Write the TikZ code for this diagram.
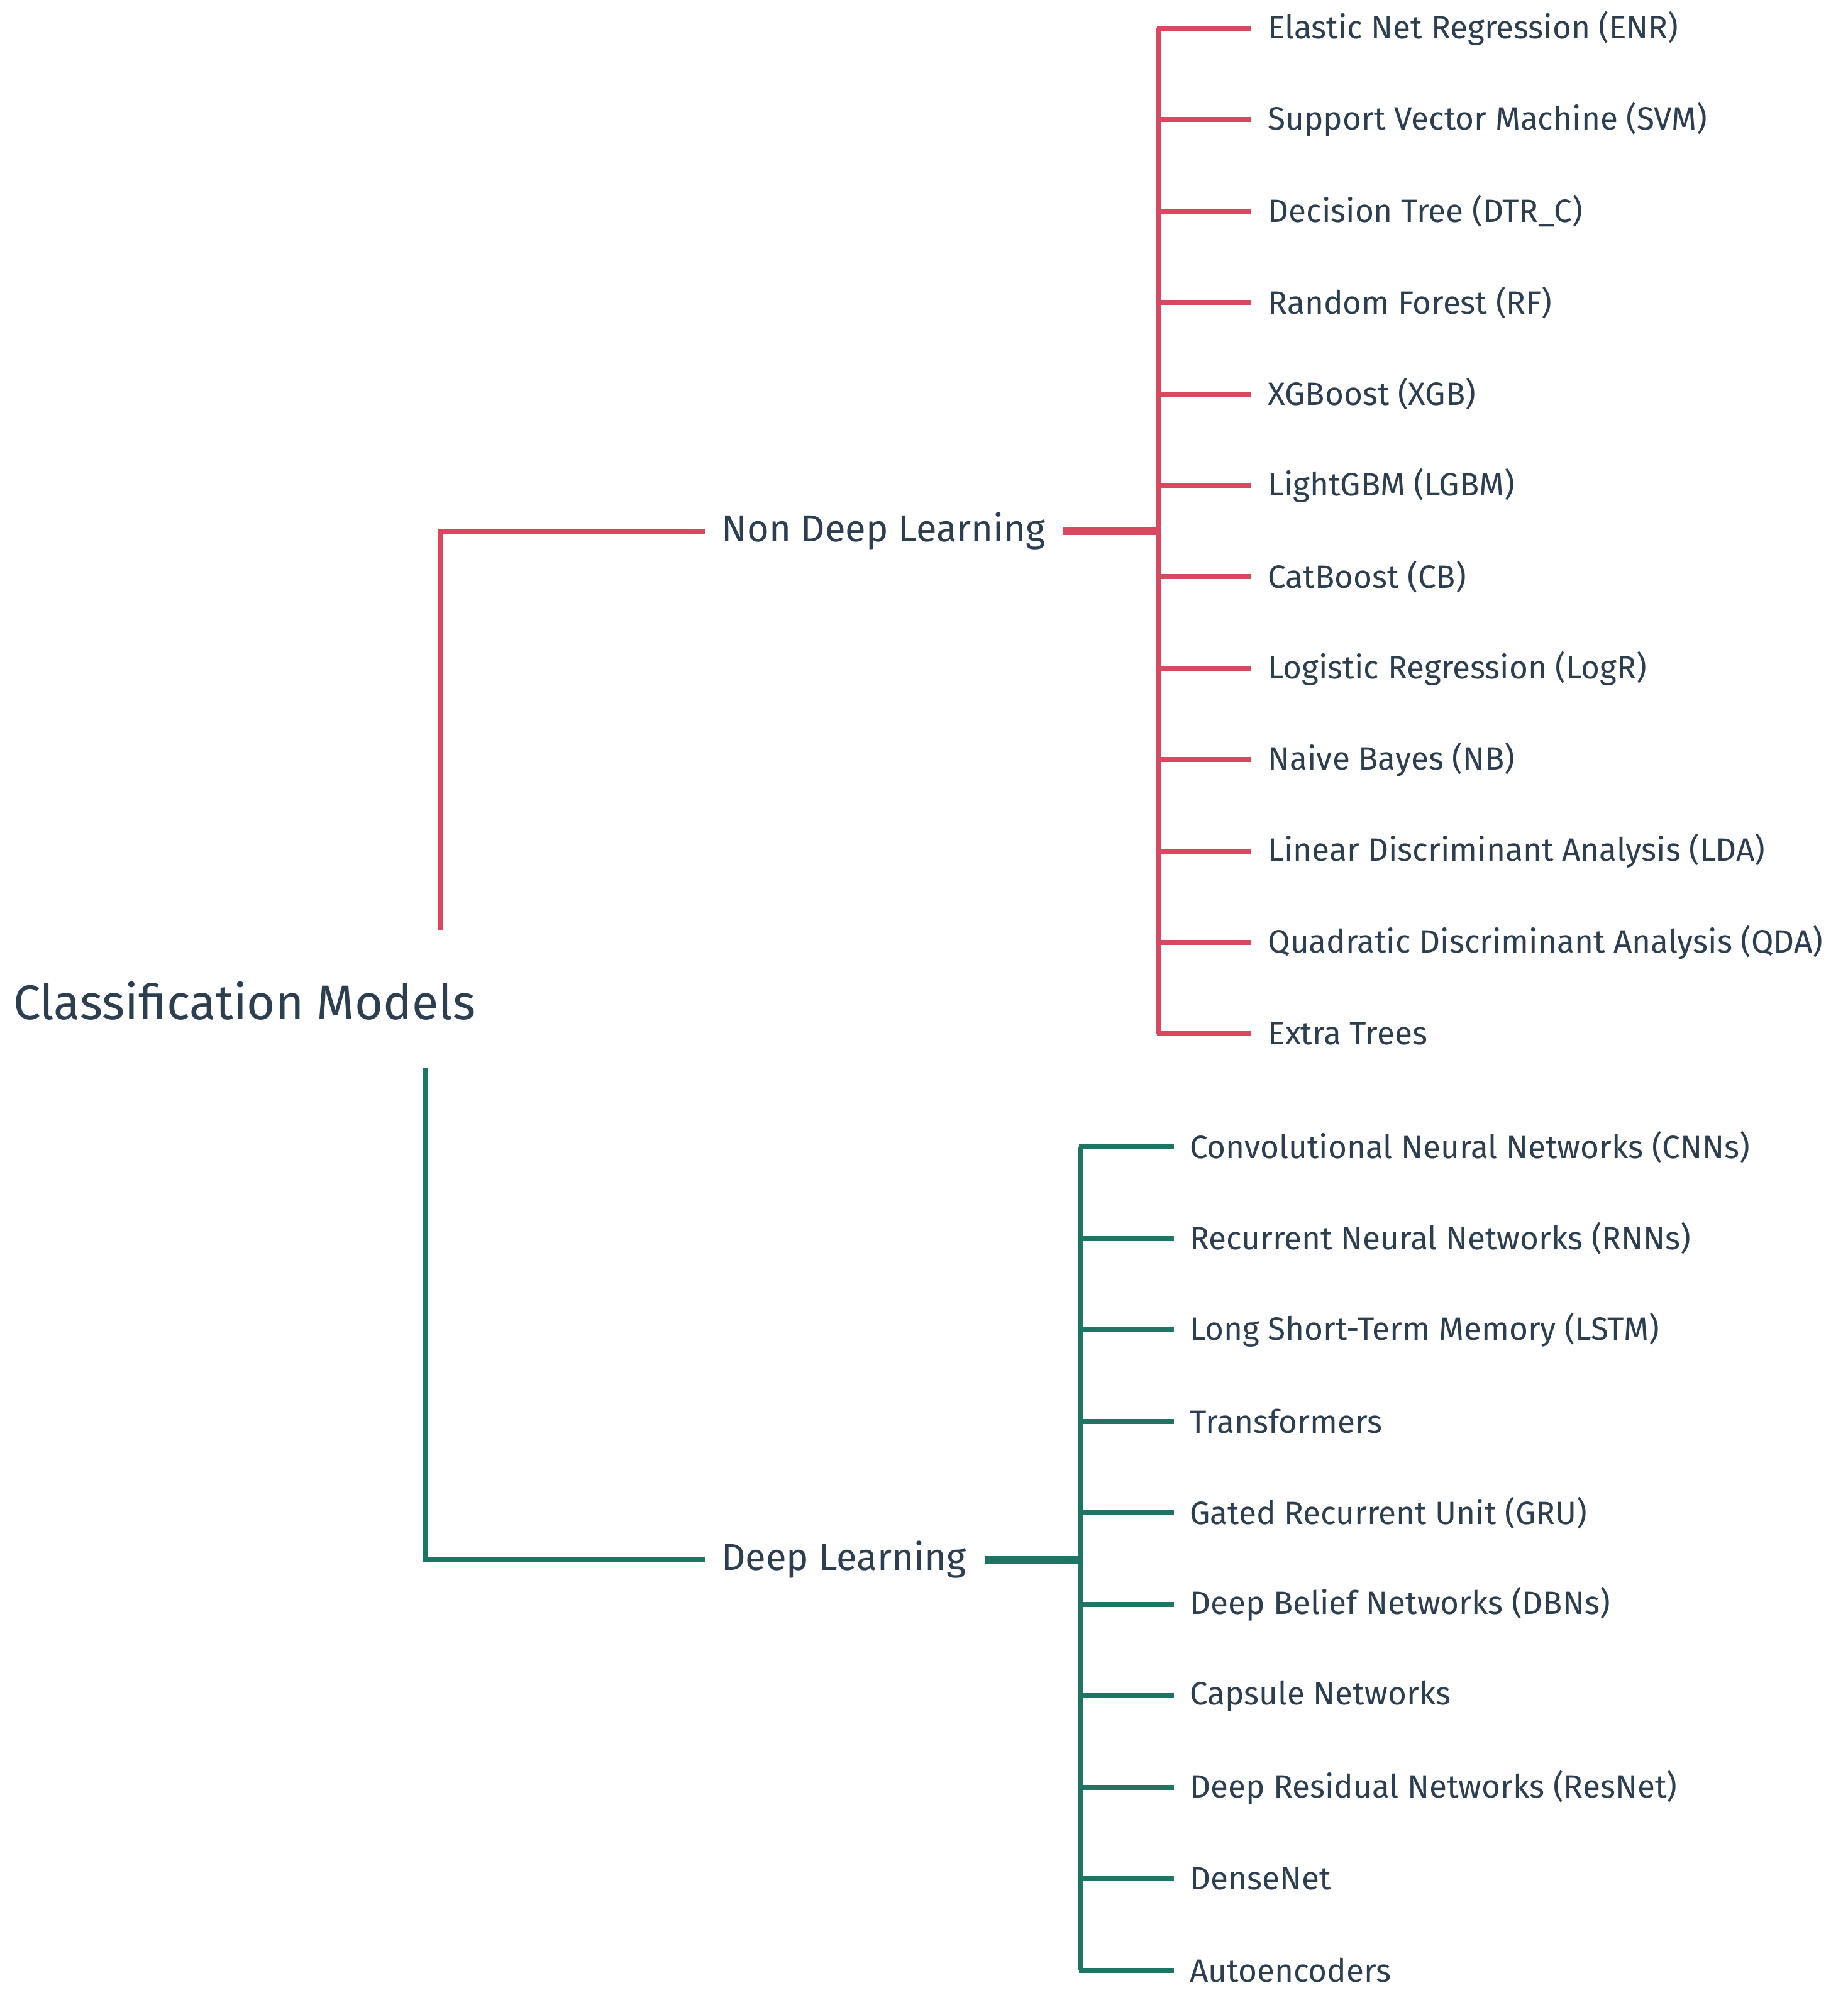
\documentclass[tikz,border=0pt]{standalone}
\usepackage{fontspec}
\setmainfont{Fira Sans}
\definecolor{cred}{HTML}{D9485F}
\definecolor{cgreen}{HTML}{1E7563}
\definecolor{ctext}{HTML}{2D3E50}
\begin{document}
\begin{tikzpicture}[x=0.0204cm,y=-0.0204cm,
  leaf/.style={anchor=west,inner sep=0pt,text=ctext,font=\fontsize{14.6}{17}\selectfont},
  mid/.style={anchor=west,inner sep=0pt,text=ctext,font=\fontsize{17}{20}\selectfont},
  rootn/.style={anchor=west,inner sep=0pt,text=ctext,font=\fontsize{22}{26}\selectfont},
  thin/.style={line width=2.3pt},
  thick/.style={line width=3.4pt}]
\useasboundingbox (0,0) rectangle (1440,1563);
\fill[white] (0,0) rectangle (1440,1563);
\node[rootn] (root) at (10,780) {Classification Models};
\coordinate (rt) at (343,725);
\coordinate (rb) at (332,832);
% Non deep learning
\node[mid] (ndl) at (562,414) {Non Deep Learning};
\draw[cred,thin] (rt) -- (343,414) -- (550,414);
\coordinate (nv) at (903,414);
\draw[cred,thick] (829,414) -- (nv);
\draw[cred,thin] (903,22) -- (903,806);
\foreach \t [count=\i] in {Elastic Net Regression (ENR),Support Vector Machine (SVM),Decision Tree (DTR\_C),Random Forest (RF),XGBoost (XGB),LightGBM (LGBM),CatBoost (CB),Logistic Regression (LogR),Naive Bayes (NB),Linear Discriminant Analysis (LDA),Quadratic Discriminant Analysis (QDA),Extra Trees}{
  \pgfmathsetmacro{\yy}{22+(\i-1)*71.27}
  \node[leaf] (n\i) at (988,\yy) {\t};
  \draw[cred,thin] (902,\yy) -- (975,\yy);
}
% Deep learning
\node[mid] (dl) at (562,1216) {Deep Learning};
\draw[cgreen,thin] (rb) -- (332,1216) -- (550,1216);
\draw[cgreen,thick] (768,1216) -- (842,1216);
\draw[cgreen,thin] (842,894) -- (842,1536);
\foreach \t [count=\i] in {Convolutional Neural Networks (CNNs),Recurrent Neural Networks (RNNs),Long Short-Term Memory (LSTM),Transformers,Gated Recurrent Unit (GRU),Deep Belief Networks (DBNs),Capsule Networks,Deep Residual Networks (ResNet),DenseNet,Autoencoders}{
  \pgfmathsetmacro{\yy}{894+(\i-1)*71.33}
  \node[leaf] (d\i) at (927,\yy) {\t};
  \draw[cgreen,thin] (841,\yy) -- (915,\yy);
}
\end{tikzpicture}
\end{document}
